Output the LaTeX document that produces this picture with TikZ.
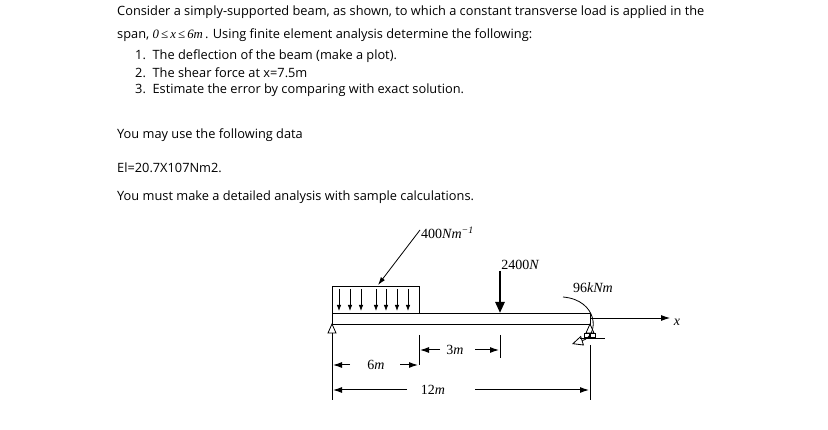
\documentclass[tikz,border=0pt]{standalone}
\usepackage{fontspec}
\setmainfont{Open Sans}
\newfontfamily\tms{Liberation Serif}
\usetikzlibrary{arrows.meta}
\begin{document}
\begin{tikzpicture}[x=1pt,y=-1pt,
  txt/.style={anchor=west,inner sep=0,font=\fontsize{12.8}{15}\selectfont},
  lab/.style={inner sep=0,font=\tms\fontsize{14}{16}\selectfont},
  dim/.style={-{Latex[length=9pt,width=6pt]},line width=1pt}]
\useasboundingbox (0,0) rectangle (828,430);
\node[txt] (t1) at (117,12) {Consider a simply-supported beam, as shown, to which a constant transverse load is applied in the};
\node[txt] (t2) at (117,35) {span, {\tms\itshape 0\,≤\,x\,≤\,6m}\,. Using finite element analysis determine the following:};
\node[txt] (t3) at (135,56) {1.\ \ The deflection of the beam (make a plot).};
\node[txt] (t4) at (135,73) {2.\ \ The shear force at x=7.5m};
\node[txt] (t5) at (135,90) {3.\ \ Estimate the error by comparing with exact solution.};
\node[txt] (t6) at (117,135) {You may use the following data};
\node[txt] (t7) at (117,168) {El=20.7X107Nm2.};
\node[txt] (t8) at (117,197) {You must make a detailed analysis with sample calculations.};
% beam
\draw[line width=0.8pt] (332,313) rectangle (590,324);
\draw[line width=0.8pt] (332,286) rectangle (419,313);
\foreach \x in {339,350,361,376,386,397,408}
  \draw[-{Latex[length=6pt,width=4.5pt]},line width=0.8pt] (\x,289) -- (\x,311);
\coordinate (la) at (420,230);
\coordinate (lb) at (378,285);
\draw[-{Latex[length=8pt,width=5pt]},line width=0.8pt] (la) -- (lb);
\node[lab,anchor=west] (l1) at (421,233) {\itshape\upshape 400\itshape Nm\textsuperscript{−1}};
\coordinate (pa) at (500,271);
\coordinate (pb) at (500,313);
\draw[-{Triangle[length=11pt,width=9pt]},line width=2.5pt] (pa) -- (pb);
\node[lab] (l2) at (520,265) {2400\itshape N};
\node[lab] (l3) at (593,288) {96\itshape kNm};
\draw[line width=0.8pt,-{Triangle[open,length=11pt,width=10pt]}] (563,297) .. controls (598,300) and (600,335) .. (572,344);
% axis
\coordinate (xa) at (590,318);
\coordinate (xb) at (670,318);
\draw[-{Latex[length=9pt,width=6pt]},line width=0.8pt] (xa) -- (xb);
\node[lab] (lx) at (677,322) {\itshape x};
% supports
\draw[line width=0.8pt] (332,324) -- (328,333) -- (336,333) -- cycle;
\draw[line width=0.8pt] (590,324) -- (586,333) -- (594,333) -- cycle;
\draw[line width=0.6pt] (584,333) rectangle (589,337);
\draw[line width=0.6pt] (590,333) rectangle (595,337);
\draw[line width=0.8pt] (580,338) -- (605,338);
% dimension lines
\draw[line width=0.8pt] (332,333) -- (332,400);
\draw[line width=0.8pt] (419,335) -- (419,365);
\draw[line width=0.8pt] (500,335) -- (500,358);
\draw[line width=0.8pt] (590,345) -- (590,400);
\node[lab] (d3) at (455,350) {3\itshape m};
\draw[dim] (440,350) -- (420,350);
\draw[dim] (475,350) -- (499,350);
\node[lab] (d6) at (376,365) {6\itshape m};
\draw[dim] (350,365) -- (333,365);
\draw[dim] (400,365) -- (418,365);
\node[lab] (d12) at (433,390) {12\itshape m};
\draw[dim] (407,390) -- (333,390);
\draw[dim] (475,390) -- (589,390);
\end{tikzpicture}
\end{document}
